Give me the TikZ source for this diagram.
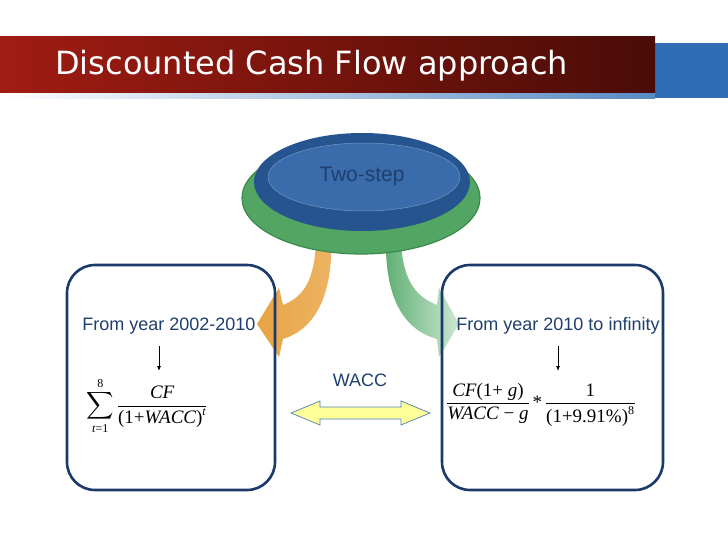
\documentclass[tikz,border=0pt]{standalone}
\usepackage{exscale}
\usepackage{amsmath}
\usepackage{fontspec}
\setmainfont{Liberation Sans}
\newfontfamily\titlefont{DejaVu Sans}
\newfontfamily\tnr{Liberation Serif}
\newcommand\fmlbig{\fontsize{19}{21}\selectfont\tnr}
\newcommand\fmlsmall{\fontsize{12}{12}\selectfont\tnr}
\newcommand\fbx[1]{\hbox{\fmlbig #1}}
\newcommand\fsx[1]{\hbox{\fmlsmall #1}}
\newcommand\bigsum{\mathop{\vcenter{\hbox{\scalebox{1.1}{$\displaystyle\sum$}}}}\limits}
\definecolor{boxnavy}{HTML}{1B3A6B}
\definecolor{txtblue}{HTML}{1F3F6F}
\definecolor{redL}{HTML}{A01C12}
\definecolor{redR}{HTML}{4A0C07}
\definecolor{bandblue}{HTML}{2F6DB5}
\definecolor{ellblue}{HTML}{26548F}
\definecolor{ellblueIn}{HTML}{3A6BAA}
\definecolor{ellgreen}{HTML}{52A562}
\definecolor{ellgreenD}{HTML}{3A8A4B}
\definecolor{orangeA}{HTML}{E7A445}
\definecolor{orangeB}{HTML}{EDB464}
\definecolor{greenA}{HTML}{5EAE72}
\definecolor{greenB}{HTML}{CDE8D2}
\definecolor{arrowyellow}{HTML}{FFFF99}
\definecolor{arrowedge}{HTML}{4F81BD}
\usetikzlibrary{arrows.meta}
\tikzset{
  panel/.style={draw=boxnavy, line width=2.6pt, rounded corners=28pt},
  bodytext/.style={font=\fontsize{18}{20}\selectfont, text=txtblue, inner sep=0pt},
  mathtext/.style={font=\fontsize{18}{20}\selectfont, inner sep=0pt},
  smallarrow/.style={-{Latex[length=5pt,width=4pt]}, line width=0.8pt}
}
\begin{document}
\begin{tikzpicture}[x=1pt,y=-1pt]
\useasboundingbox (0,0) rectangle (728,546);
\fill[white] (0,0) rectangle (728,546);
% header
\fill[bandblue] (655,43) rectangle (728,98);
\shade[left color=white, right color=bandblue!80] (0,92) rectangle (655,98);
\shade[left color=redL, right color=redR] (0,36) rectangle (655,92);
\node[anchor=west, text=white, inner sep=0pt, font=\titlefont\fontsize{32}{34}\selectfont] (title) at (55,66) {Discounted Cash Flow approach};
% curved arrows (drawn first, they emerge from under the disc)
\shade[left color=orangeA, right color=orangeB]
  (331,235) .. controls (334,300) and (312,330) .. (283,339)
  -- (279,357) -- (257,324) -- (279,288) -- (283,305)
  .. controls (300,298) and (316,285) .. (316,235) -- cycle;
\shade[left color=greenA, right color=greenB]
  (386,235) .. controls (384,300) and (405,330) .. (437,339)
  -- (439,357) -- (459,324) -- (439,288) -- (437,305)
  .. controls (420,298) and (401,285) .. (401,235) -- cycle;
% disc
\fill[ellgreen] (361,198) ellipse [x radius=119, y radius=56];
\draw[ellgreenD, line width=1.2pt] (361,198) ellipse [x radius=119, y radius=56];
\fill[ellblue] (362,182) ellipse [x radius=108, y radius=49];
\fill[ellblueIn] (364,177) ellipse [x radius=96, y radius=34];
\draw[ellblueIn!70!white, line width=0.5pt] (364,177) ellipse [x radius=96, y radius=34];
\node[font=\fontsize{21}{23}\selectfont, text=txtblue, inner sep=0pt] (two) at (362,176) {Two-step};
% panels
\draw[panel] (67,265) rectangle (275,490);
\draw[panel] (442,265) rectangle (663,490);
% texts
\node[bodytext] (leftlabel) at (169,326) {From year 2002-2010};
\node[bodytext] (rightlabel) at (558,326) {From year 2010 to infinity};
\coordinate (la1) at (159,346);
\coordinate (la2) at (159,371);
\coordinate (ra1) at (558,346);
\coordinate (ra2) at (558,371);
\draw[smallarrow] (la1) -- (la2);
\draw[smallarrow] (ra1) -- (ra2);
\node[mathtext] (leftf) at (147,406) {$\displaystyle\bigsum_{\fsx{\itshape t\upshape =1}}^{\fsx{8}}\frac{\fbx{\itshape CF}}{\fbx{(1+\itshape WACC\upshape )}^{\fsx{\itshape t}}}$};
\node[mathtext] (rightf) at (541,405) {$\displaystyle\frac{\fbx{\itshape CF\upshape (1+ \itshape g\upshape )}}{\fbx{\itshape WACC\upshape\ − \itshape g}}\,\fbx{*}\,\frac{\fbx{1}}{\fbx{(1+9.91\%)}^{\fsx{8}}}$};
% WACC
\node[bodytext] (wacc) at (360,380) {WACC};
\draw[draw=arrowedge, fill=arrowyellow, line width=0.7pt]
  (291,413) -- (320,401) -- (320,407) -- (401,407) -- (401,401) -- (430,413)
  -- (401,425) -- (401,419) -- (320,419) -- (320,425) -- cycle;
\end{tikzpicture}
\end{document}
